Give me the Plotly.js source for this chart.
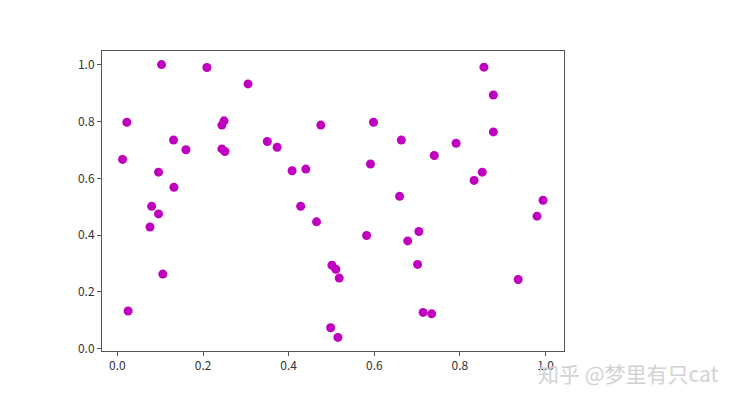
<!DOCTYPE html>
<html>
<head>
<meta charset="utf-8">
<script src="https://cdn.plot.ly/plotly-3.0.1.min.js"></script>
<style>html,body{margin:0;padding:0;background:#fff;}#chart{width:739px;height:405px;}</style>
</head>
<body>
<div id="chart"></div>
<script>
const xValues = [0.103,0.209,0.305,0.022,0.249,0.244,0.131,0.160,0.244,0.251,
  0.350,0.373,0.012,0.096,0.408,0.440,0.132,0.475,0.080,0.428,
  0.856,0.878,0.598,0.878,0.663,0.791,0.740,0.591,0.852,0.833,
  0.659,0.994,0.096,0.076,0.465,0.106,0.025,0.980,0.582,0.704,
  0.678,0.701,0.501,0.510,0.518,0.936,0.714,0.734,0.498,0.515];
const yValues = [1.001,0.991,0.933,0.798,0.803,0.788,0.735,0.701,0.704,0.695,
  0.730,0.710,0.667,0.622,0.627,0.633,0.569,0.788,0.502,0.502,
  0.992,0.894,0.798,0.764,0.735,0.724,0.681,0.651,0.622,0.593,
  0.537,0.523,0.475,0.429,0.447,0.263,0.133,0.467,0.399,0.413,
  0.380,0.297,0.294,0.280,0.249,0.244,0.128,0.123,0.074,0.040];
const tickVals = [0,0.2,0.4,0.6,0.8,1.0];
const tickText = ['0.0','0.2','0.4','0.6','0.8','1.0'];
const watermark = '知乎 @梦里有只cat';

const tickFont = {family: '"Noto Sans CJK SC", "DejaVu Sans", sans-serif', size: 12, color: '#333'};
const axisCommon = {
  showgrid: false, zeroline: false, showline: true, mirror: true,
  linecolor: '#555', linewidth: 1, ticks: 'outside', ticklen: 4, tickcolor: '#555',
  tickvals: tickVals, ticktext: tickText, tickfont: tickFont
};
Plotly.newPlot('chart', [{
  type: 'scatter', mode: 'markers', x: xValues, y: yValues,
  marker: {color: '#bf00bf', size: 9}
}], {
  width: 739, height: 405,
  margin: {l: 102, r: 175, t: 51, b: 54},
  paper_bgcolor: '#fff', plot_bgcolor: '#fff',
  showlegend: false,
  xaxis: Object.assign({range: [-0.036, 1.043]}, axisCommon),
  yaxis: Object.assign({range: [-0.008, 1.049]}, axisCommon),
  annotations: [{
    text: watermark, xref: 'paper', yref: 'paper', x: 1, y: 0,
    xshift: 157, yshift: -22, xanchor: 'right', yanchor: 'middle', showarrow: false,
    font: {family: '"Noto Sans CJK SC", sans-serif', size: 21, color: '#d2d2d2'}
  }]
}, {staticPlot: true, displayModeBar: false});
</script>
</body>
</html>
